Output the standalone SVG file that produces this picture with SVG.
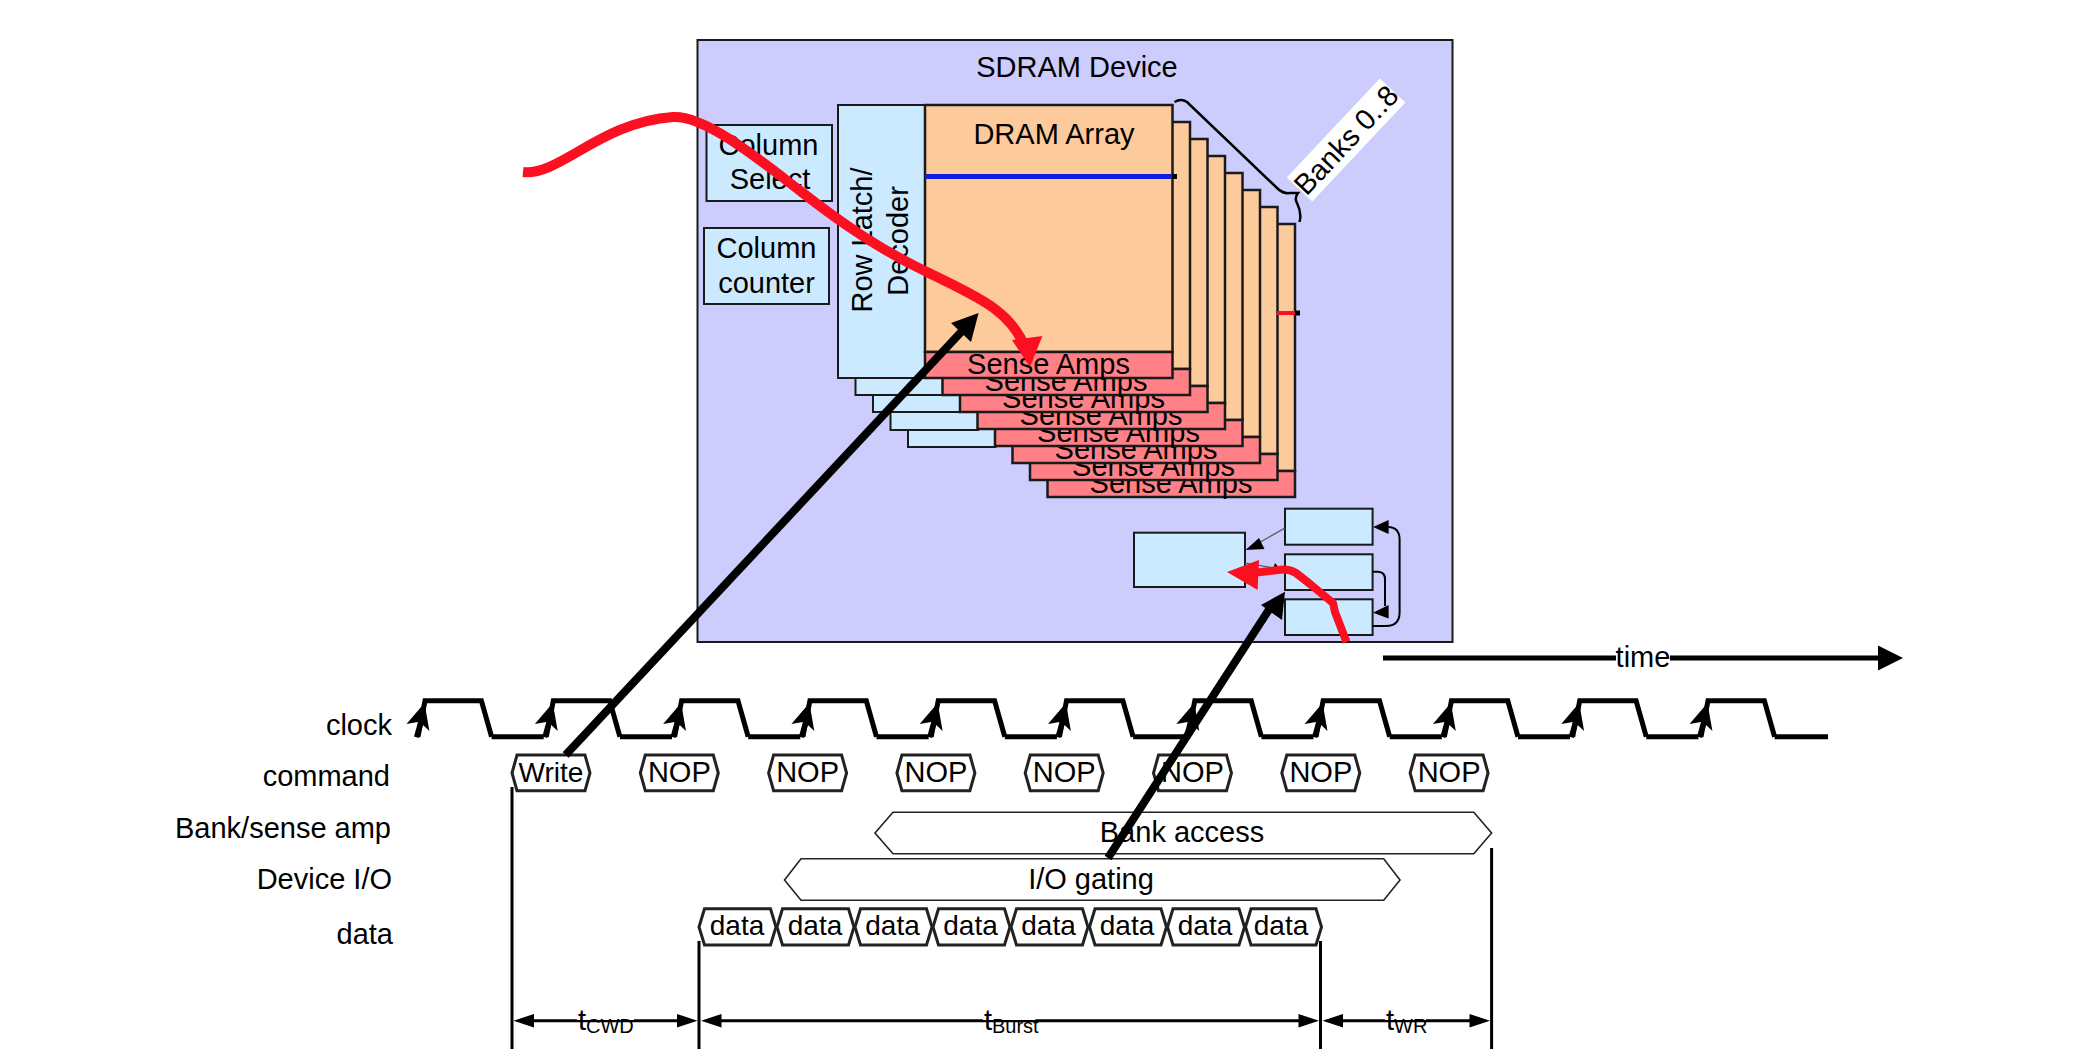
<svg xmlns="http://www.w3.org/2000/svg" xmlns:xlink="http://www.w3.org/1999/xlink" width="2080" height="1064" viewBox="0 0 2080 1064">
<style>
text{font-family:"Liberation Sans",Arial,sans-serif;font-size:29px;fill:#000}
.m{text-anchor:middle}.e{text-anchor:end}
.blue{fill:#cceaff;stroke:#1a1a1a;stroke-width:2}
.arr{fill:#fdca9b;stroke:#1a1a1a;stroke-width:2.5}
.amp{fill:#ff8087;stroke:#1a1a1a;stroke-width:2.5}
.hx{fill:#fff;stroke:#222;stroke-width:3}
.hb{fill:#fff;stroke:#222;stroke-width:1.6}
.v{stroke:#000;stroke-width:3;fill:none}
.d{stroke:#000;stroke-width:3;fill:none}
.red{stroke:#fb0f20;fill:none;stroke-linejoin:round}
.blk{stroke:#000;stroke-width:8;fill:none}
.s{font-size:20px}
.t28{font-size:28px}
.w{fill:#fff}
</style>
<defs>
<g id="bank">
<rect class="arr" x="925" y="105" width="247.500" height="247"/>
<rect class="amp" x="925" y="352" width="247.500" height="26"/>
<text class="m" x="1048.500" y="374">Sense Amps</text>
</g>
<g id="pulse">
<path d="M418 736.700 L425 700.700 H481.400 L491.600 736.700" fill="none" stroke="#000" stroke-width="5"/>
<path d="M424.500 703 L429.400 731 L423 725 L419 738 L414 736.500 L418 722 L406.500 724 Z" fill="#000"/>
</g>
</defs>
<rect width="2080" height="1064" fill="#fff"/>
<g id="sdram-device">
<rect x="697.500" y="40" width="755" height="602" fill="#ccccfd" stroke="#1a1a1a" stroke-width="2"/>
<text class="m" x="1077" y="77">SDRAM Device</text>
</g>
<g id="row-latch-stack">
<rect class="blue" x="908" y="173" width="87.500" height="274"/>
<rect class="blue" x="890.500" y="156" width="87.500" height="274"/>
<rect class="blue" x="873" y="139" width="87.500" height="273"/>
<rect class="blue" x="855.500" y="122" width="87.500" height="273"/>
</g>
<g id="banks">
<use href="#bank" x="122.500" y="119"/>
<use href="#bank" x="105" y="102"/>
<use href="#bank" x="87.500" y="85"/>
<use href="#bank" x="70" y="68"/>
<use href="#bank" x="52.500" y="51"/>
<use href="#bank" x="35" y="34"/>
<use href="#bank" x="17.500" y="17"/>
</g>
<g id="column-select">
<rect class="blue" x="706.500" y="125" width="125.500" height="76"/>
<text class="m" x="768.500" y="155">Column</text>
<text class="m" x="770" y="189">Select</text>
</g>
<g id="column-counter">
<rect class="blue" x="704" y="228" width="125" height="76"/>
<text class="m" x="766.500" y="258">Column</text>
<text class="m" x="766.500" y="293">counter</text>
</g>
<g id="row-latch">
<rect class="blue" x="838" y="105" width="87" height="273"/>
<text class="m" transform="translate(872 240) rotate(-90)">Row Latch/</text>
<text class="m" transform="translate(908 241) rotate(-90)">Decoder</text>
</g>
<g id="dram-array">
<use href="#bank"/>
<text class="m" x="1054" y="144">DRAM Array</text>
<rect x="925" y="174" width="248" height="5" fill="#0a1ee0"/>
<rect x="1172" y="174" width="5" height="5" fill="#000"/>
<rect x="1277" y="311" width="18" height="4" fill="#fb0f20"/>
<rect x="1295" y="310.500" width="5" height="5" fill="#000"/>
</g>
<g id="banks-brace">
<path d="M1174.500 102 Q1181 98 1187 102 L1277 188 Q1283 194 1290 193 L1298 193 Q1294 198 1297 203 Q1302 213 1299.500 222" fill="none" stroke="#000" stroke-width="2.500"/>
<g transform="translate(1346 140) rotate(-46.800)">
<rect x="-68" y="-17.500" width="136" height="35" fill="#fff"/>
<text class="m" x="0" y="10">Banks 0..8</text>
</g>
</g>
<g id="mux-box"><rect class="blue" x="1134" y="532.700" width="111" height="54.300"/></g>
<g id="reg-a"><rect class="blue" x="1285" y="508.700" width="87.600" height="36"/></g>
<g id="reg-b"><rect class="blue" x="1285" y="554.300" width="87.600" height="35.700"/></g>
<g id="reg-c"><rect class="blue" x="1285" y="599.300" width="87.600" height="35.700"/></g>
<g id="waveforms">
<use href="#pulse"/>
<use href="#pulse" x="128.300"/>
<use href="#pulse" x="256.600"/>
<use href="#pulse" x="384.900"/>
<use href="#pulse" x="513.200"/>
<use href="#pulse" x="641.500"/>
<use href="#pulse" x="769.800"/>
<use href="#pulse" x="898.100"/>
<use href="#pulse" x="1026.400"/>
<use href="#pulse" x="1154.700"/>
<use href="#pulse" x="1283"/>
<path d="M491.600 736.700 H543.700 M619.900 736.700 H672 M748.200 736.700 H800.300 M876.500 736.700 H928.600 M1004.800 736.700 H1056.900 M1133.100 736.700 H1185.200 M1261.400 736.700 H1313.500 M1389.700 736.700 H1441.800 M1518 736.700 H1570.100 M1646.300 736.700 H1698.400 M1774.600 736.700 H1828" stroke="#000" stroke-width="5" fill="none"/>
</g>
<g id="labels">
<text class="e" x="392" y="735">clock</text>
<text class="e" x="390" y="786">command</text>
<text class="e" x="391" y="838">Bank/sense amp</text>
<text class="e" x="392" y="889">Device I/O</text>
<text class="e" x="393" y="944">data</text>
</g>
<g id="commands">
<g id="cmd-write"><path class="hx" d="M517 755 H585 L590 773 L585 790.700 H517 L512 773 Z"/><text class="m t28" x="551" y="782">Write</text></g>
<g id="cmd-nop-1"><path class="hx" d="M645.300 755 H713.300 L718.300 773 L713.300 790.700 H645.300 L640.300 773 Z"/><text class="m" x="679.300" y="782">NOP</text></g>
<g id="cmd-nop-2"><path class="hx" d="M773.600 755 H841.600 L846.600 773 L841.600 790.700 H773.600 L768.600 773 Z"/><text class="m" x="807.600" y="782">NOP</text></g>
<g id="cmd-nop-3"><path class="hx" d="M901.900 755 H969.900 L974.900 773 L969.900 790.700 H901.900 L896.900 773 Z"/><text class="m" x="935.900" y="782">NOP</text></g>
<g id="cmd-nop-4"><path class="hx" d="M1030.200 755 H1098.200 L1103.200 773 L1098.200 790.700 H1030.200 L1025.200 773 Z"/><text class="m" x="1064.200" y="782">NOP</text></g>
<g id="cmd-nop-5"><path class="hx" d="M1158.500 755 H1226.500 L1231.500 773 L1226.500 790.700 H1158.500 L1153.500 773 Z"/><text class="m" x="1192.500" y="782">NOP</text></g>
<g id="cmd-nop-6"><path class="hx" d="M1286.800 755 H1354.800 L1359.800 773 L1354.800 790.700 H1286.800 L1281.800 773 Z"/><text class="m" x="1320.800" y="782">NOP</text></g>
<g id="cmd-nop-7"><path class="hx" d="M1415.100 755 H1483.100 L1488.100 773 L1483.100 790.700 H1415.100 L1410.100 773 Z"/><text class="m" x="1449.100" y="782">NOP</text></g>
</g>
<g id="bank-access"><path class="hb" d="M893 812.300 H1473.800 L1491.600 833 L1473.800 853.700 H893 L875 833 Z"/><text class="m" x="1182" y="842">Bank access</text></g>
<g id="io-gating"><path class="hb" d="M801 858.700 H1383.700 L1400 880 L1383.700 900.300 H801 L784.500 880 Z"/><text class="m" x="1091" y="888.500">I/O gating</text></g>
<g id="data-bus">
<g><path class="hx" d="M704.500 908.700 H770.500 L776 927 L770.500 945 H704.500 L699 927 Z"/><text class="m t28" x="737" y="935">data</text></g>
<g><path class="hx" d="M782.500 908.700 H848.500 L854 927 L848.500 945 H782.500 L777 927 Z"/><text class="m t28" x="815" y="935">data</text></g>
<g><path class="hx" d="M860.500 908.700 H926.500 L932 927 L926.500 945 H860.500 L855 927 Z"/><text class="m t28" x="892.500" y="935">data</text></g>
<g><path class="hx" d="M938.500 908.700 H1004.500 L1010 927 L1004.500 945 H938.500 L933 927 Z"/><text class="m t28" x="970.500" y="935">data</text></g>
<g><path class="hx" d="M1016.500 908.700 H1082.500 L1088 927 L1082.500 945 H1016.500 L1011 927 Z"/><text class="m t28" x="1048.500" y="935">data</text></g>
<g><path class="hx" d="M1095 908.700 H1161 L1166.500 927 L1161 945 H1095 L1089.500 927 Z"/><text class="m t28" x="1127" y="935">data</text></g>
<g><path class="hx" d="M1173 908.700 H1239 L1244.500 927 L1239 945 H1173 L1167.500 927 Z"/><text class="m t28" x="1205" y="935">data</text></g>
<g><path class="hx" d="M1251 908.700 H1316 L1321.500 927 L1316 945 H1251 L1245.500 927 Z"/><text class="m t28" x="1281" y="935">data</text></g>
</g>
<g id="timing">
<path class="v" d="M512 787 V1049 M699 941 V1049 M1320.500 941 V1049 M1491.600 848 V1049"/>
<path class="d" d="M530 1020.700 H681 M717 1020.700 H1303 M1339 1020.700 H1473"/>
<path d="M513.500 1020.700 L534 1014 V1027.400 Z M697.500 1020.700 L677 1014 V1027.400 Z M701 1020.700 L721.500 1014 V1027.400 Z M1319 1020.700 L1298.500 1014 V1027.400 Z M1322.500 1020.700 L1343 1014 V1027.400 Z M1490 1020.700 L1469.500 1014 V1027.400 Z" fill="#000"/>
<rect class="w" x="577" y="1008" width="57" height="12"/>
<rect class="w" x="983" y="1008" width="53" height="12"/>
<rect class="w" x="1385" y="1008" width="41" height="12"/>
<text x="578" y="1030">t</text><text class="s" x="586" y="1033">CWD</text>
<text x="984" y="1030">t</text><text class="s" x="992" y="1033">Burst</text>
<text x="1386" y="1030">t</text><text class="s" x="1394" y="1033">WR</text>
</g>
<g id="connectors">
<path d="M1285 528 L1255 545" stroke="#555" stroke-width="1.200" fill="none"/>
<path d="M1245.500 550 L1259 538 L1264.500 549 Z" fill="#000"/>
<path d="M1245 563 L1285 570" stroke="#555" stroke-width="1.200" fill="none"/>
<path d="M1275 563 L1273 570 L1281 570 Z" fill="#000"/>
<path d="M1372.600 571.700 H1378 Q1385 572 1385 579 V606" fill="none" stroke="#000" stroke-width="2"/>
<path d="M1373 612.700 L1388.600 605 V618.500 Z" fill="#000"/>
<path d="M1372.600 626 H1386 Q1399.600 626 1399.600 612 V540 Q1399.600 527 1388 527" fill="none" stroke="#000" stroke-width="2"/>
<path d="M1373 527 L1388.600 520 V534 Z" fill="#000"/>
<path class="blk" d="M565.600 755 L963 330"/>
<path d="M978.600 313 L951 323 L971 342 Z" fill="#000"/>
<path class="blk" d="M1108 858 L1272 605"/>
<path d="M1285 591.700 L1261 605 L1282 620 Z" fill="#000"/>
<path class="red" stroke-width="10" d="M523 172 C560 176 600 122 673 117 C705 115 760 160 799 190 C840 222 880 250 929 273 C975 296 1012 310 1026 350"/>
<path d="M1030 367 L1012 340 L1042.400 336 Z" fill="#fb0f20"/>
<path class="red" stroke-width="8" d="M1346.500 642 L1335 612 L1333 603 L1310 584 L1296 573 Q1288 568 1278 570 L1252 573"/>
<path d="M1227 572 L1259 560 L1257.600 590 Z" fill="#fb0f20"/>
</g>
<g id="time-axis">
<path d="M1383 658 H1880" stroke="#000" stroke-width="5" fill="none"/>
<path d="M1903 658 L1878 645.500 V670.500 Z" fill="#000"/>
<rect class="w" x="1616" y="648" width="54" height="22"/>
<text class="m" x="1643" y="667">time</text>
</g>
</svg>
